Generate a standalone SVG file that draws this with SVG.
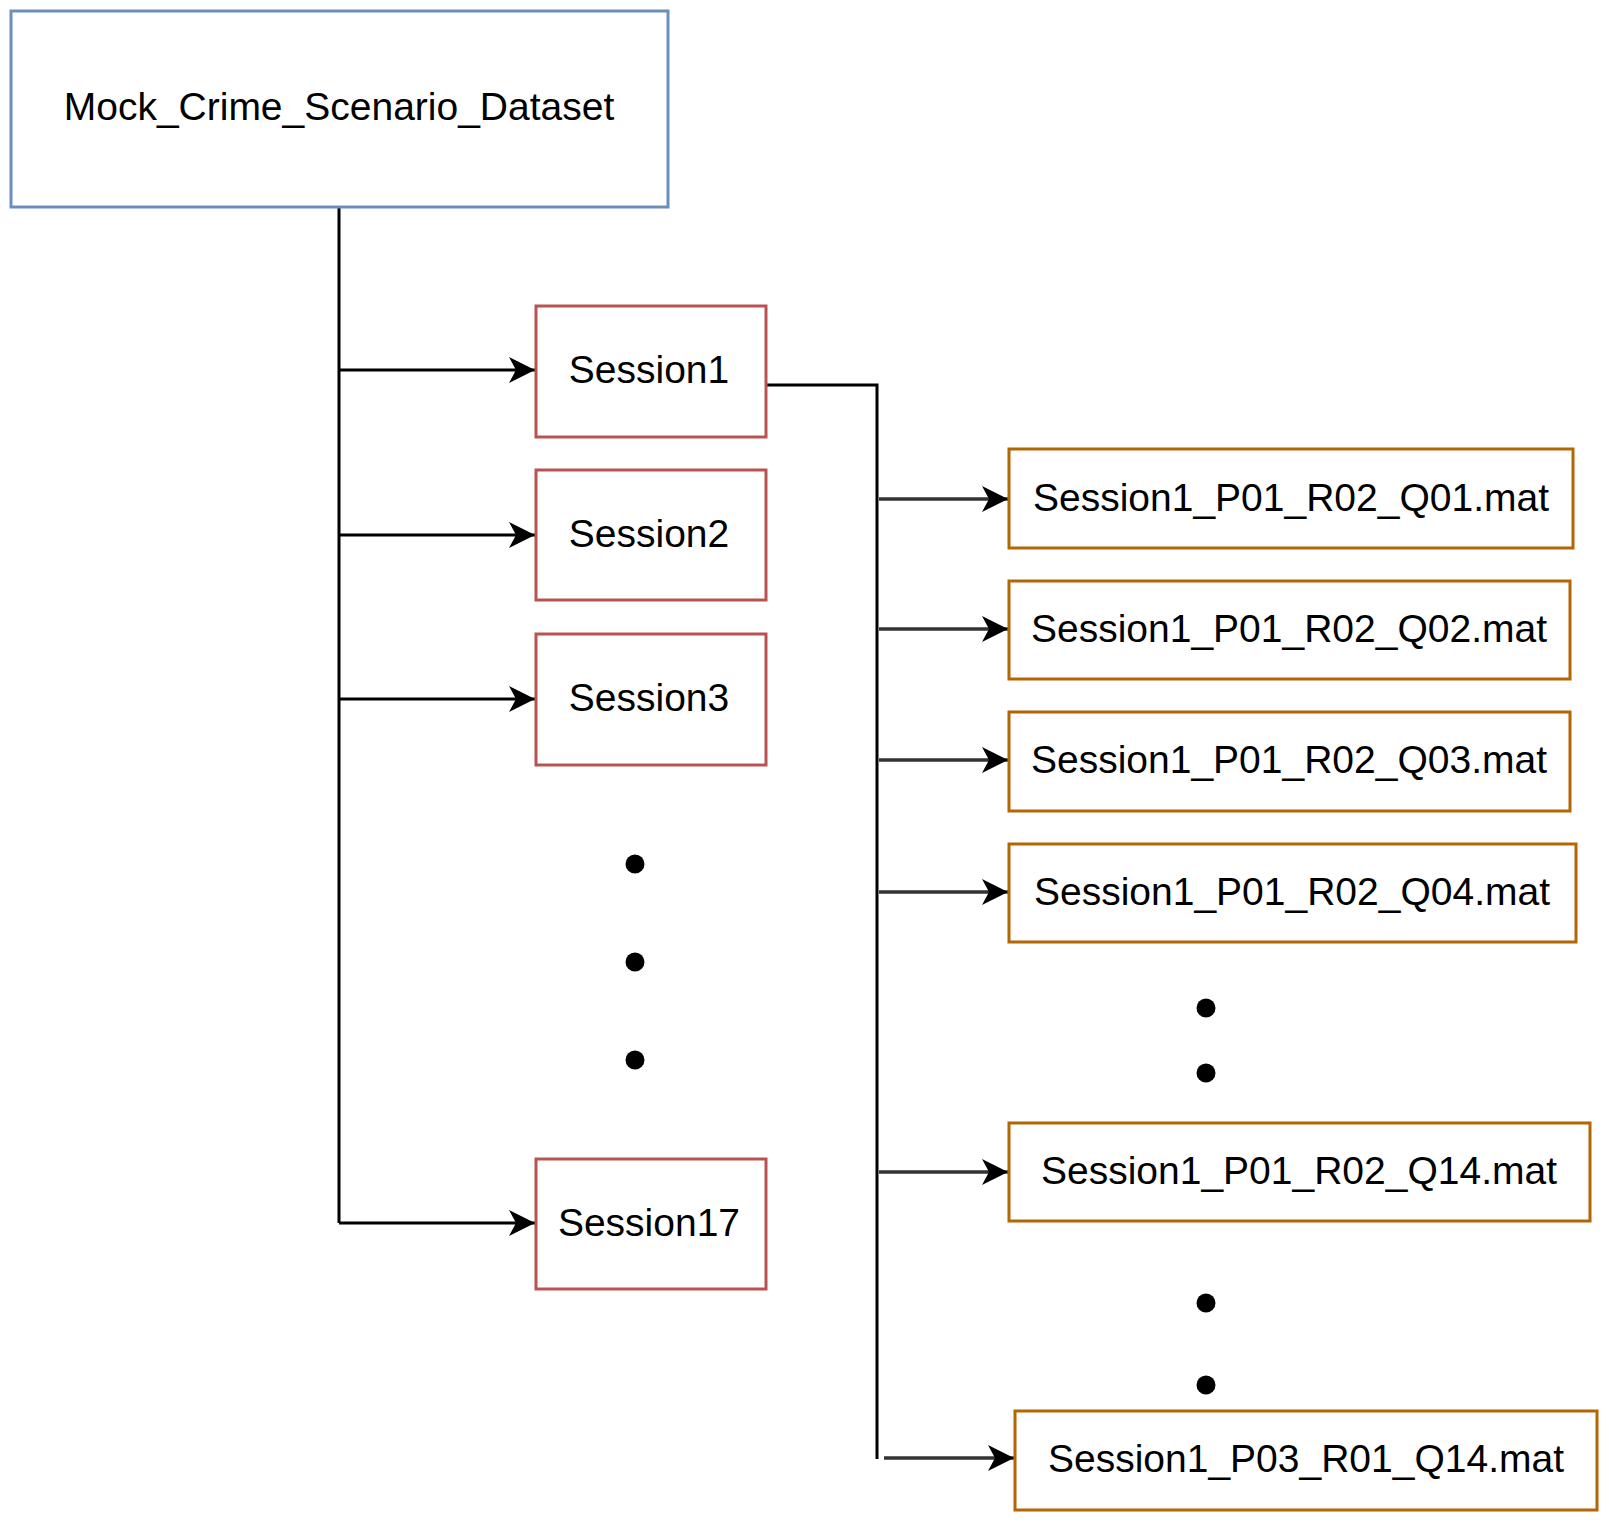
<svg xmlns="http://www.w3.org/2000/svg" width="1609" height="1523" viewBox="0 0 1609 1523">
<style>
.t{font-family:"Liberation Sans",Arial,sans-serif;font-size:39px;fill:#000;text-anchor:middle}
.blue{fill:#fff;stroke:#6c8ebf;stroke-width:3}
.red{fill:#fff;stroke:#b85450;stroke-width:3}
.org{fill:#fff;stroke:#b46504;stroke-width:3}
.c{fill:none;stroke:#000;stroke-width:3}
.cg{fill:none;stroke:#333;stroke-width:3.5}
.dot{fill:#000}
</style>
<defs>
<marker id="ah" markerUnits="userSpaceOnUse" markerWidth="28" markerHeight="28" viewBox="0 0 28 28" refX="26" refY="14" orient="auto">
<path d="M0,1 L26,14 L0,27 L7,14 Z" fill="#000"/>
</marker>
</defs>
<g id="connectors">
<path class="c" d="M339,207 V1223"/>
<path class="c" d="M339,370 H535" marker-end="url(#ah)"/>
<path class="c" d="M339,535 H535" marker-end="url(#ah)"/>
<path class="c" d="M339,699 H535" marker-end="url(#ah)"/>
<path class="c" d="M339,1223 H535" marker-end="url(#ah)"/>
<path class="c" d="M766,385 H877 V1459"/>
<path class="cg" d="M879,499 H1008" marker-end="url(#ah)"/>
<path class="cg" d="M879,629 H1008" marker-end="url(#ah)"/>
<path class="cg" d="M879,760 H1008" marker-end="url(#ah)"/>
<path class="cg" d="M879,892 H1008" marker-end="url(#ah)"/>
<path class="cg" d="M879,1172 H1008" marker-end="url(#ah)"/>
<path class="cg" d="M884,1458 H1014" marker-end="url(#ah)"/>
</g>
<g id="root"><rect class="blue" x="11" y="11" width="657" height="196"/><text class="t" x="339" y="120">Mock_Crime_Scenario_Dataset</text></g>
<g id="session1"><rect class="red" x="536" y="306" width="230" height="131"/><text class="t" x="649" y="383">Session1</text></g>
<g id="session2"><rect class="red" x="536" y="470" width="230" height="130"/><text class="t" x="649" y="547">Session2</text></g>
<g id="session3"><rect class="red" x="536" y="634" width="230" height="131"/><text class="t" x="649" y="711">Session3</text></g>
<g id="session17"><rect class="red" x="536" y="1159" width="230" height="130"/><text class="t" x="649" y="1236">Session17</text></g>
<g id="dots-sessions"><circle class="dot" cx="635" cy="864" r="9.5"/><circle class="dot" cx="635" cy="962" r="9.5"/><circle class="dot" cx="635" cy="1060" r="9.5"/></g>
<g id="f-q01"><rect class="org" x="1009" y="449" width="564" height="99"/><text class="t" x="1291" y="511">Session1_P01_R02_Q01.mat</text></g>
<g id="f-q02"><rect class="org" x="1009" y="581" width="561" height="98"/><text class="t" x="1289" y="642">Session1_P01_R02_Q02.mat</text></g>
<g id="f-q03"><rect class="org" x="1009" y="712" width="561" height="99"/><text class="t" x="1289" y="773">Session1_P01_R02_Q03.mat</text></g>
<g id="f-q04"><rect class="org" x="1009" y="844" width="567" height="98"/><text class="t" x="1292" y="905">Session1_P01_R02_Q04.mat</text></g>
<g id="dots-files1"><circle class="dot" cx="1206" cy="1008" r="9.5"/><circle class="dot" cx="1206" cy="1073" r="9.5"/></g>
<g id="f-q14"><rect class="org" x="1009" y="1123" width="581" height="98"/><text class="t" x="1299" y="1184">Session1_P01_R02_Q14.mat</text></g>
<g id="dots-files2"><circle class="dot" cx="1206" cy="1303" r="9.5"/><circle class="dot" cx="1206" cy="1385" r="9.5"/></g>
<g id="f-p03"><rect class="org" x="1015" y="1411" width="582" height="99"/><text class="t" x="1306" y="1472">Session1_P03_R01_Q14.mat</text></g>
</svg>
